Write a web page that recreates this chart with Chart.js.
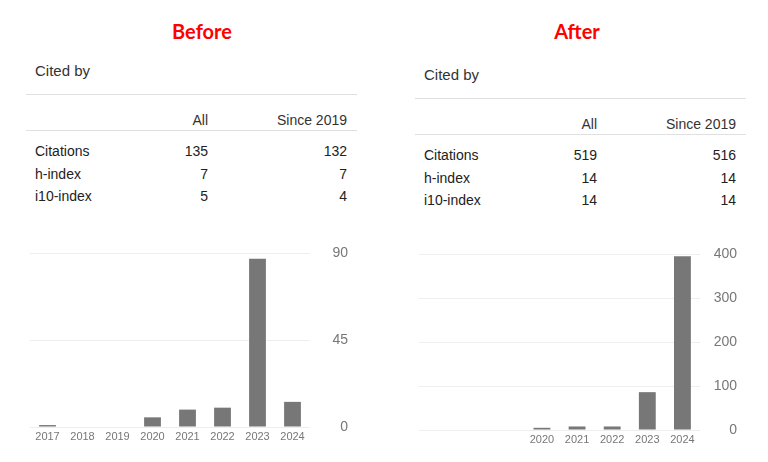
<!DOCTYPE html>
<html>
<head>
<meta charset="utf-8">
<script src="https://cdn.jsdelivr.net/npm/chart.js@4"></script>
<style>
  html, body { margin: 0; padding: 0; background: #fff; }
  body { width: 768px; height: 462px; position: relative; overflow: hidden;
         font-family: "Liberation Sans", Arial, sans-serif; }
  .t { position: absolute; white-space: nowrap; line-height: 18px; }
  .title { position: absolute; font-family: Lato, "Open Sans", sans-serif; font-weight: bold;
           font-size: 20px; color: #ff0000; line-height: 24px; transform: translateX(-50%); }
  .rule { position: absolute; height: 1px; background: #e0e0e0; }
  .box { position: absolute; }
</style>
</head>
<body>
<div id="root"></div>
<script>
// data
const beforeYears = ['2017', '2018', '2019', '2020', '2021', '2022', '2023', '2024'];
const beforeCounts = [1, 0, 0, 5, 9, 10, 87, 13];
const beforeTicks = [0, 45, 90];

// scholar keeps 8 slots, so the first three are empty here
const afterYears = ['', '', '', '2020', '2021', '2022', '2023', '2024'];
const afterCounts = [null, null, null, 5, 8, 8, 86, 395];
const afterTicks = [0, 100, 200, 300, 400];

const rowNames = ['Citations', 'h-index', 'i10-index'];
const beforeAll = [135, 7, 5];
const beforeSince = [132, 7, 4];
const afterAll = [519, 14, 14];
const afterSince = [516, 14, 14];

const root = document.getElementById('root');

function addText(txt, x, y, opts) {
    const el = document.createElement('div');
    el.className = 't';
    el.textContent = txt;
    el.style.fontSize = (opts.size || 14) + 'px';
    el.style.color = opts.color || '#222';
    el.style.top = (y - 9) + 'px';
    if (opts.right) {
        el.style.right = (768 - x) + 'px';
    } else {
        el.style.left = x + 'px';
    }
    root.appendChild(el);
}

function addRule(x, y, w) {
    const el = document.createElement('div');
    el.className = 'rule';
    el.style.left = x + 'px';
    el.style.top = y + 'px';
    el.style.width = w + 'px';
    root.appendChild(el);
}

function addTitle(txt, cx, cy) {
    const el = document.createElement('div');
    el.className = 'title';
    el.textContent = txt;
    el.style.left = cx + 'px';
    el.style.top = (cy - 12) + 'px';
    root.appendChild(el);
}

// the "Cited by" table, p is the top-left of the panel
function drawTable(p, allVals, sinceVals) {
    addText('Cited by', p.x + 9, p.y + 71, { size: 15, color: '#333' });
    addRule(p.x, p.y + 94, 331);
    addText('All', p.x + 182, p.y + 120, { right: true, color: '#333' });
    addText('Since 2019', p.x + 321, p.y + 120, { right: true, color: '#333' });
    addRule(p.x, p.y + 130, 331);
    rowNames.forEach((name, i) => {
        const y = p.y + 151 + i * 22.6;
        addText(name, p.x + 9, y, {});
        addText(String(allVals[i]), p.x + 182, y, { right: true });
        addText(String(sinceVals[i]), p.x + 321, y, { right: true });
    });
}

// y labels are right aligned to the scale's right edge, so axisWidth sets where they end
function drawChart(id, box, labels, values, ticks, axisWidth) {
    const div = document.createElement('div');
    div.className = 'box';
    div.style.left = box.left + 'px';
    div.style.top = box.top + 'px';
    div.style.width = box.width + 'px';
    div.style.height = box.height + 'px';
    const cv = document.createElement('canvas');
    cv.id = id;
    div.appendChild(cv);
    root.appendChild(div);

    return new Chart(cv.getContext('2d'), {
        type: 'bar',
        data: {
            labels: labels,
            datasets: [{
                data: values,
                backgroundColor: '#777777',
                borderWidth: 0,
                categoryPercentage: 1,
                barPercentage: 0.48
            }]
        },
        options: {
            responsive: true,
            maintainAspectRatio: false,
            animation: false,
            layout: { padding: { top: 17, left: 0, right: 0, bottom: 0 } },
            plugins: { legend: { display: false }, tooltip: { enabled: false } },
            scales: {
                x: {
                    grid: { display: false, drawTicks: false },
                    border: { display: false },
                    ticks: {
                        color: '#777',
                        padding: 3,
                        maxRotation: 0,
                        autoSkip: false,
                        font: { family: '"Liberation Sans", Arial, sans-serif', size: 11 }
                    },
                    afterFit: (s) => { s.height = 24; }
                },
                y: {
                    position: 'right',
                    min: ticks[0],
                    max: ticks[ticks.length - 1],
                    afterBuildTicks: (s) => { s.ticks = ticks.map(v => ({ value: v })); },
                    grid: { color: '#eeeeee', drawTicks: false },
                    border: { display: false },
                    ticks: {
                        color: '#777',
                        padding: 0,
                        crossAlign: 'far',
                        font: { family: '"Liberation Sans", Arial, sans-serif', size: 14 }
                    },
                    afterFit: (s) => { s.width = axisWidth; }
                }
            }
        }
    });
}

addTitle('Before', 202, 31);
addTitle('After', 577, 31);

drawTable({ x: 26, y: 0 }, beforeAll, beforeSince);
drawTable({ x: 415, y: 4 }, afterAll, afterSince);

drawChart('beforeChart', { left: 30, top: 236, width: 318, height: 215 },
    beforeYears, beforeCounts, beforeTicks, 38);
drawChart('afterChart', { left: 419, top: 237, width: 318, height: 217 },
    afterYears, afterCounts, afterTicks, 37);
</script>
</body>
</html>
